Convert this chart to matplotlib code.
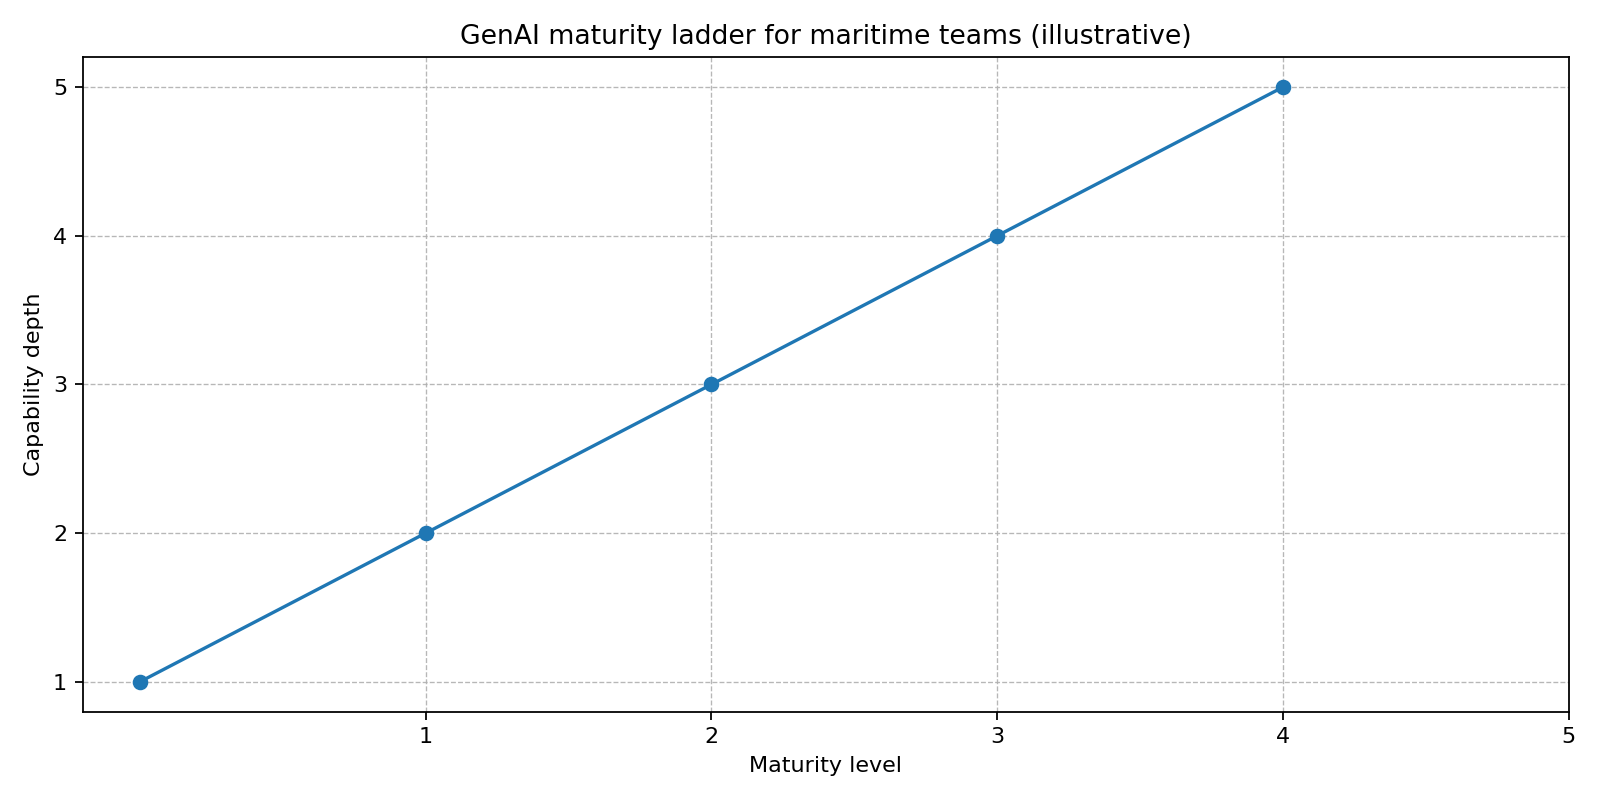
import matplotlib
matplotlib.use('Agg')
import matplotlib.pyplot as plt

# Maturity ladder data
level_idx = [0, 1, 2, 3, 4]
depth = [1, 2, 3, 4, 5]
tick_pos = [1, 2, 3, 4, 5]
tick_labels = ['1', '2', '3', '4', '5']

fig, ax = plt.subplots(figsize=(10, 5), dpi=160)
ax.plot(level_idx, depth, marker='o', color='#1f77b4', linewidth=1.5)
ax.set_xticks(tick_pos)
ax.set_xticklabels(tick_labels)
ax.set_xlim(-0.2, 5)
ax.set_yticks(depth)
ax.set_title('GenAI maturity ladder for maritime teams (illustrative)')
ax.set_xlabel('Maturity level')
ax.set_ylabel('Capability depth')
ax.grid(True, linestyle='--', linewidth=0.6, alpha=0.9)
fig.tight_layout()
fig.savefig('out.png')
